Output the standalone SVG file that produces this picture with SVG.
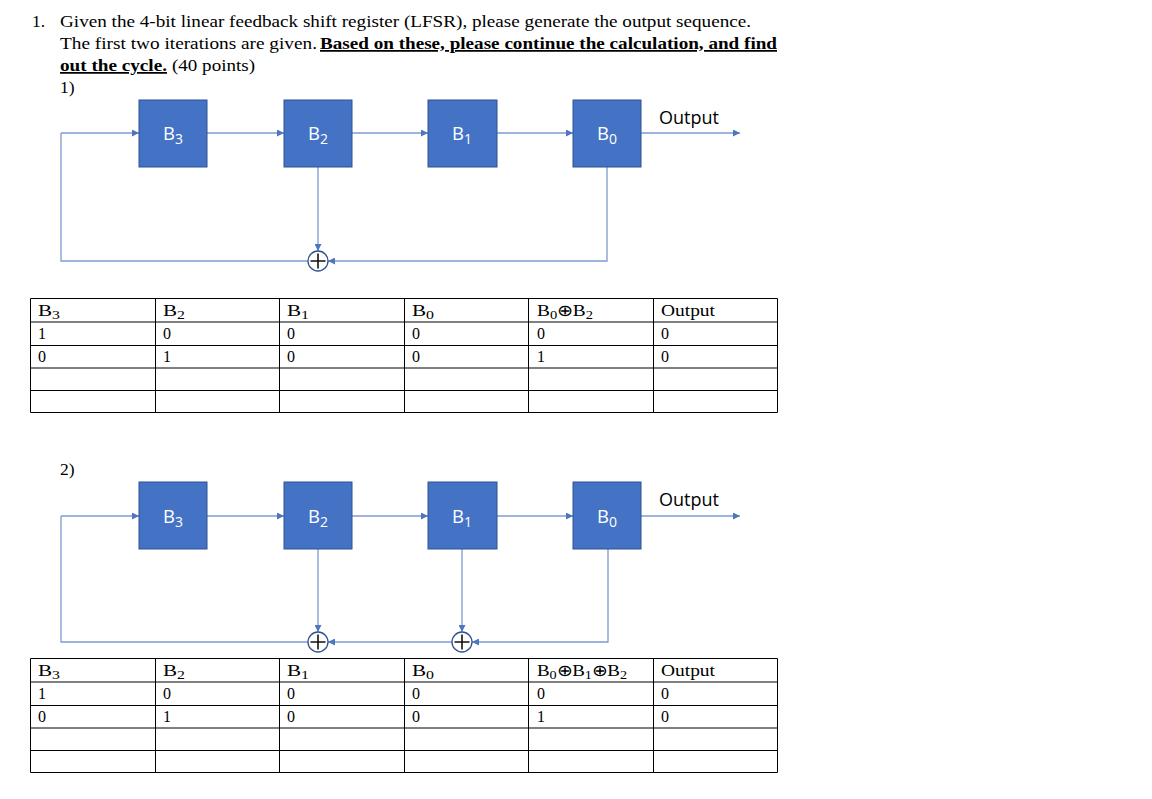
<svg xmlns="http://www.w3.org/2000/svg" width="1152" height="799" viewBox="0 0 1152 799">
<defs>
<marker id="ah" viewBox="0 0 10 10" refX="10" refY="5" markerWidth="7" markerHeight="7" markerUnits="userSpaceOnUse" orient="auto"><path d="M0,0 L10,5 L0,10 z" fill="#4F75BD"/></marker>
<g id="xor"><circle r="10" fill="#fff" stroke="#2F528F" stroke-width="1.3"/><path d="M-7.5,0 H7.5 M0,-7.5 V7.5" stroke="#111" stroke-width="1.6"/></g>
</defs>
<style>
.t{font-family:"Liberation Serif","Times New Roman",serif;font-size:17.5px;fill:#000}
.b{font-weight:bold;text-decoration:underline}
.box{fill:#4472C4;stroke:#2F528F;stroke-width:1}
.bl{font-family:"Open Sans","Noto Sans",sans-serif;font-size:18.5px;fill:#fff;text-anchor:middle}
.sub{font-size:14px}
.out{font-family:"Open Sans","Noto Sans",sans-serif;font-size:18px;fill:#000}
.ln{fill:none;stroke:#7E9BD0;stroke-width:1.3}
.grid{fill:none;stroke:#000;stroke-width:1}
.c{font-family:"Liberation Serif","Times New Roman",serif;font-size:16px;fill:#000}
.cs{font-size:12px}
</style>
<rect width="1152" height="799" fill="#fff"/>
<g id="heading">
<text class="t" x="32" y="27">1.</text>
<text class="t" x="60" y="27" textLength="691" lengthAdjust="spacingAndGlyphs">Given the 4-bit linear feedback shift register (LFSR), please generate the output sequence.</text>
<text class="t" x="60" y="49" textLength="257" lengthAdjust="spacingAndGlyphs">The first two iterations are given.</text>
<text class="t b" x="320" y="49" textLength="457" lengthAdjust="spacingAndGlyphs">Based on these, please continue the calculation, and find</text>
<text class="t b" x="60" y="71" textLength="107" lengthAdjust="spacingAndGlyphs">out the cycle.</text>
<text class="t" x="172" y="71" textLength="83" lengthAdjust="spacingAndGlyphs">(40 points)</text>
<text class="t" x="60" y="93">1)</text>
<text class="t" x="60" y="475">2)</text>
</g>
<g id="connectors">
<path class="ln" d="M61,133 H139" marker-end="url(#ah)"/>
<path class="ln" d="M207,133 H284" marker-end="url(#ah)"/>
<path class="ln" d="M352,133 H428" marker-end="url(#ah)"/>
<path class="ln" d="M497,133 H573" marker-end="url(#ah)"/>
<path class="ln" d="M641,133 H740" marker-end="url(#ah)"/>
<path class="ln" d="M318,167 V251" marker-end="url(#ah)"/>
<path class="ln" d="M607,167 V261 H328" marker-end="url(#ah)"/>
<path class="ln" d="M308,261 H61 V133"/>
<path class="ln" d="M61,516 H139" marker-end="url(#ah)"/>
<path class="ln" d="M207,516 H284" marker-end="url(#ah)"/>
<path class="ln" d="M352,516 H428" marker-end="url(#ah)"/>
<path class="ln" d="M497,516 H573" marker-end="url(#ah)"/>
<path class="ln" d="M641,516 H740" marker-end="url(#ah)"/>
<path class="ln" d="M318,549 V632" marker-end="url(#ah)"/>
<path class="ln" d="M462,549 V632" marker-end="url(#ah)"/>
<path class="ln" d="M608,549 V642 H472" marker-end="url(#ah)"/>
<path class="ln" d="M452,642 H328" marker-end="url(#ah)"/>
<path class="ln" d="M308,642 H61 V516"/>
</g>
<g id="d1-b3"><rect class="box" x="139" y="100" width="68" height="67"/><text class="bl" x="173" y="140">B<tspan class="sub" dy="4">3</tspan></text></g>
<g id="d1-b2"><rect class="box" x="284" y="100" width="68" height="67"/><text class="bl" x="318" y="140">B<tspan class="sub" dy="4">2</tspan></text></g>
<g id="d1-b1"><rect class="box" x="428" y="100" width="69" height="67"/><text class="bl" x="462" y="140">B<tspan class="sub" dy="4">1</tspan></text></g>
<g id="d1-b0"><rect class="box" x="573" y="100" width="68" height="67"/><text class="bl" x="607" y="140">B<tspan class="sub" dy="4">0</tspan></text></g>
<g id="d1-out"><text class="out" x="659" y="124">Output</text></g>
<g id="d1-xor"><use href="#xor" x="318" y="261"/></g>
<g id="d2-b3"><rect class="box" x="139" y="482" width="68" height="67"/><text class="bl" x="173" y="523">B<tspan class="sub" dy="4">3</tspan></text></g>
<g id="d2-b2"><rect class="box" x="284" y="482" width="68" height="67"/><text class="bl" x="318" y="523">B<tspan class="sub" dy="4">2</tspan></text></g>
<g id="d2-b1"><rect class="box" x="428" y="482" width="69" height="67"/><text class="bl" x="462" y="523">B<tspan class="sub" dy="4">1</tspan></text></g>
<g id="d2-b0"><rect class="box" x="573" y="482" width="68" height="67"/><text class="bl" x="607" y="523">B<tspan class="sub" dy="4">0</tspan></text></g>
<g id="d2-out"><text class="out" x="659" y="506">Output</text></g>
<g id="d2-xor1"><use href="#xor" x="318" y="642"/></g>
<g id="d2-xor2"><use href="#xor" x="462" y="642"/></g>
<g id="table1">
<path class="grid" d="M30.5,298.5 H777.5 V412.5 H30.5 Z M30.5,322 H777.5 M30.5,345.5 H777.5 M30.5,368 H777.5 M30.5,390.5 H777.5 M155.5,298.5 V412.5 M279.5,298.5 V412.5 M404.5,298.5 V412.5 M528.5,298.5 V412.5 M653.5,298.5 V412.5"/>
<text class="c" x="38" y="316" textLength="22" lengthAdjust="spacingAndGlyphs">B<tspan class="cs" dy="3">3</tspan></text>
<text class="c" x="163" y="316" textLength="22" lengthAdjust="spacingAndGlyphs">B<tspan class="cs" dy="3">2</tspan></text>
<text class="c" x="287" y="316" textLength="22" lengthAdjust="spacingAndGlyphs">B<tspan class="cs" dy="3">1</tspan></text>
<text class="c" x="412" y="316" textLength="22" lengthAdjust="spacingAndGlyphs">B<tspan class="cs" dy="3">0</tspan></text>
<text class="c" x="537" y="316" textLength="56" lengthAdjust="spacingAndGlyphs">B<tspan class="cs" dy="3">0</tspan><tspan dy="-3">⊕B</tspan><tspan class="cs" dy="3">2</tspan></text>
<text class="c" x="661" y="316" textLength="54" lengthAdjust="spacingAndGlyphs">Output</text>
<text class="c" x="38" y="339">1</text><text class="c" x="163" y="339">0</text><text class="c" x="287" y="339">0</text><text class="c" x="412" y="339">0</text><text class="c" x="537" y="339">0</text><text class="c" x="661" y="339">0</text>
<text class="c" x="38" y="362">0</text><text class="c" x="163" y="362">1</text><text class="c" x="287" y="362">0</text><text class="c" x="412" y="362">0</text><text class="c" x="537" y="362">1</text><text class="c" x="661" y="362">0</text>
</g>
<g id="table2">
<path class="grid" d="M30.5,658.5 H777.5 V772.5 H30.5 Z M30.5,682 H777.5 M30.5,705.5 H777.5 M30.5,728 H777.5 M30.5,750.5 H777.5 M155.5,658.5 V772.5 M279.5,658.5 V772.5 M404.5,658.5 V772.5 M528.5,658.5 V772.5 M653.5,658.5 V772.5"/>
<text class="c" x="38" y="676" textLength="22" lengthAdjust="spacingAndGlyphs">B<tspan class="cs" dy="3">3</tspan></text>
<text class="c" x="163" y="676" textLength="22" lengthAdjust="spacingAndGlyphs">B<tspan class="cs" dy="3">2</tspan></text>
<text class="c" x="287" y="676" textLength="22" lengthAdjust="spacingAndGlyphs">B<tspan class="cs" dy="3">1</tspan></text>
<text class="c" x="412" y="676" textLength="22" lengthAdjust="spacingAndGlyphs">B<tspan class="cs" dy="3">0</tspan></text>
<text class="c" x="537" y="676" textLength="90" lengthAdjust="spacingAndGlyphs">B<tspan class="cs" dy="3">0</tspan><tspan dy="-3">⊕B</tspan><tspan class="cs" dy="3">1</tspan><tspan dy="-3">⊕B</tspan><tspan class="cs" dy="3">2</tspan></text>
<text class="c" x="661" y="676" textLength="54" lengthAdjust="spacingAndGlyphs">Output</text>
<text class="c" x="38" y="699">1</text><text class="c" x="163" y="699">0</text><text class="c" x="287" y="699">0</text><text class="c" x="412" y="699">0</text><text class="c" x="537" y="699">0</text><text class="c" x="661" y="699">0</text>
<text class="c" x="38" y="722">0</text><text class="c" x="163" y="722">1</text><text class="c" x="287" y="722">0</text><text class="c" x="412" y="722">0</text><text class="c" x="537" y="722">1</text><text class="c" x="661" y="722">0</text>
</g>
</svg>
